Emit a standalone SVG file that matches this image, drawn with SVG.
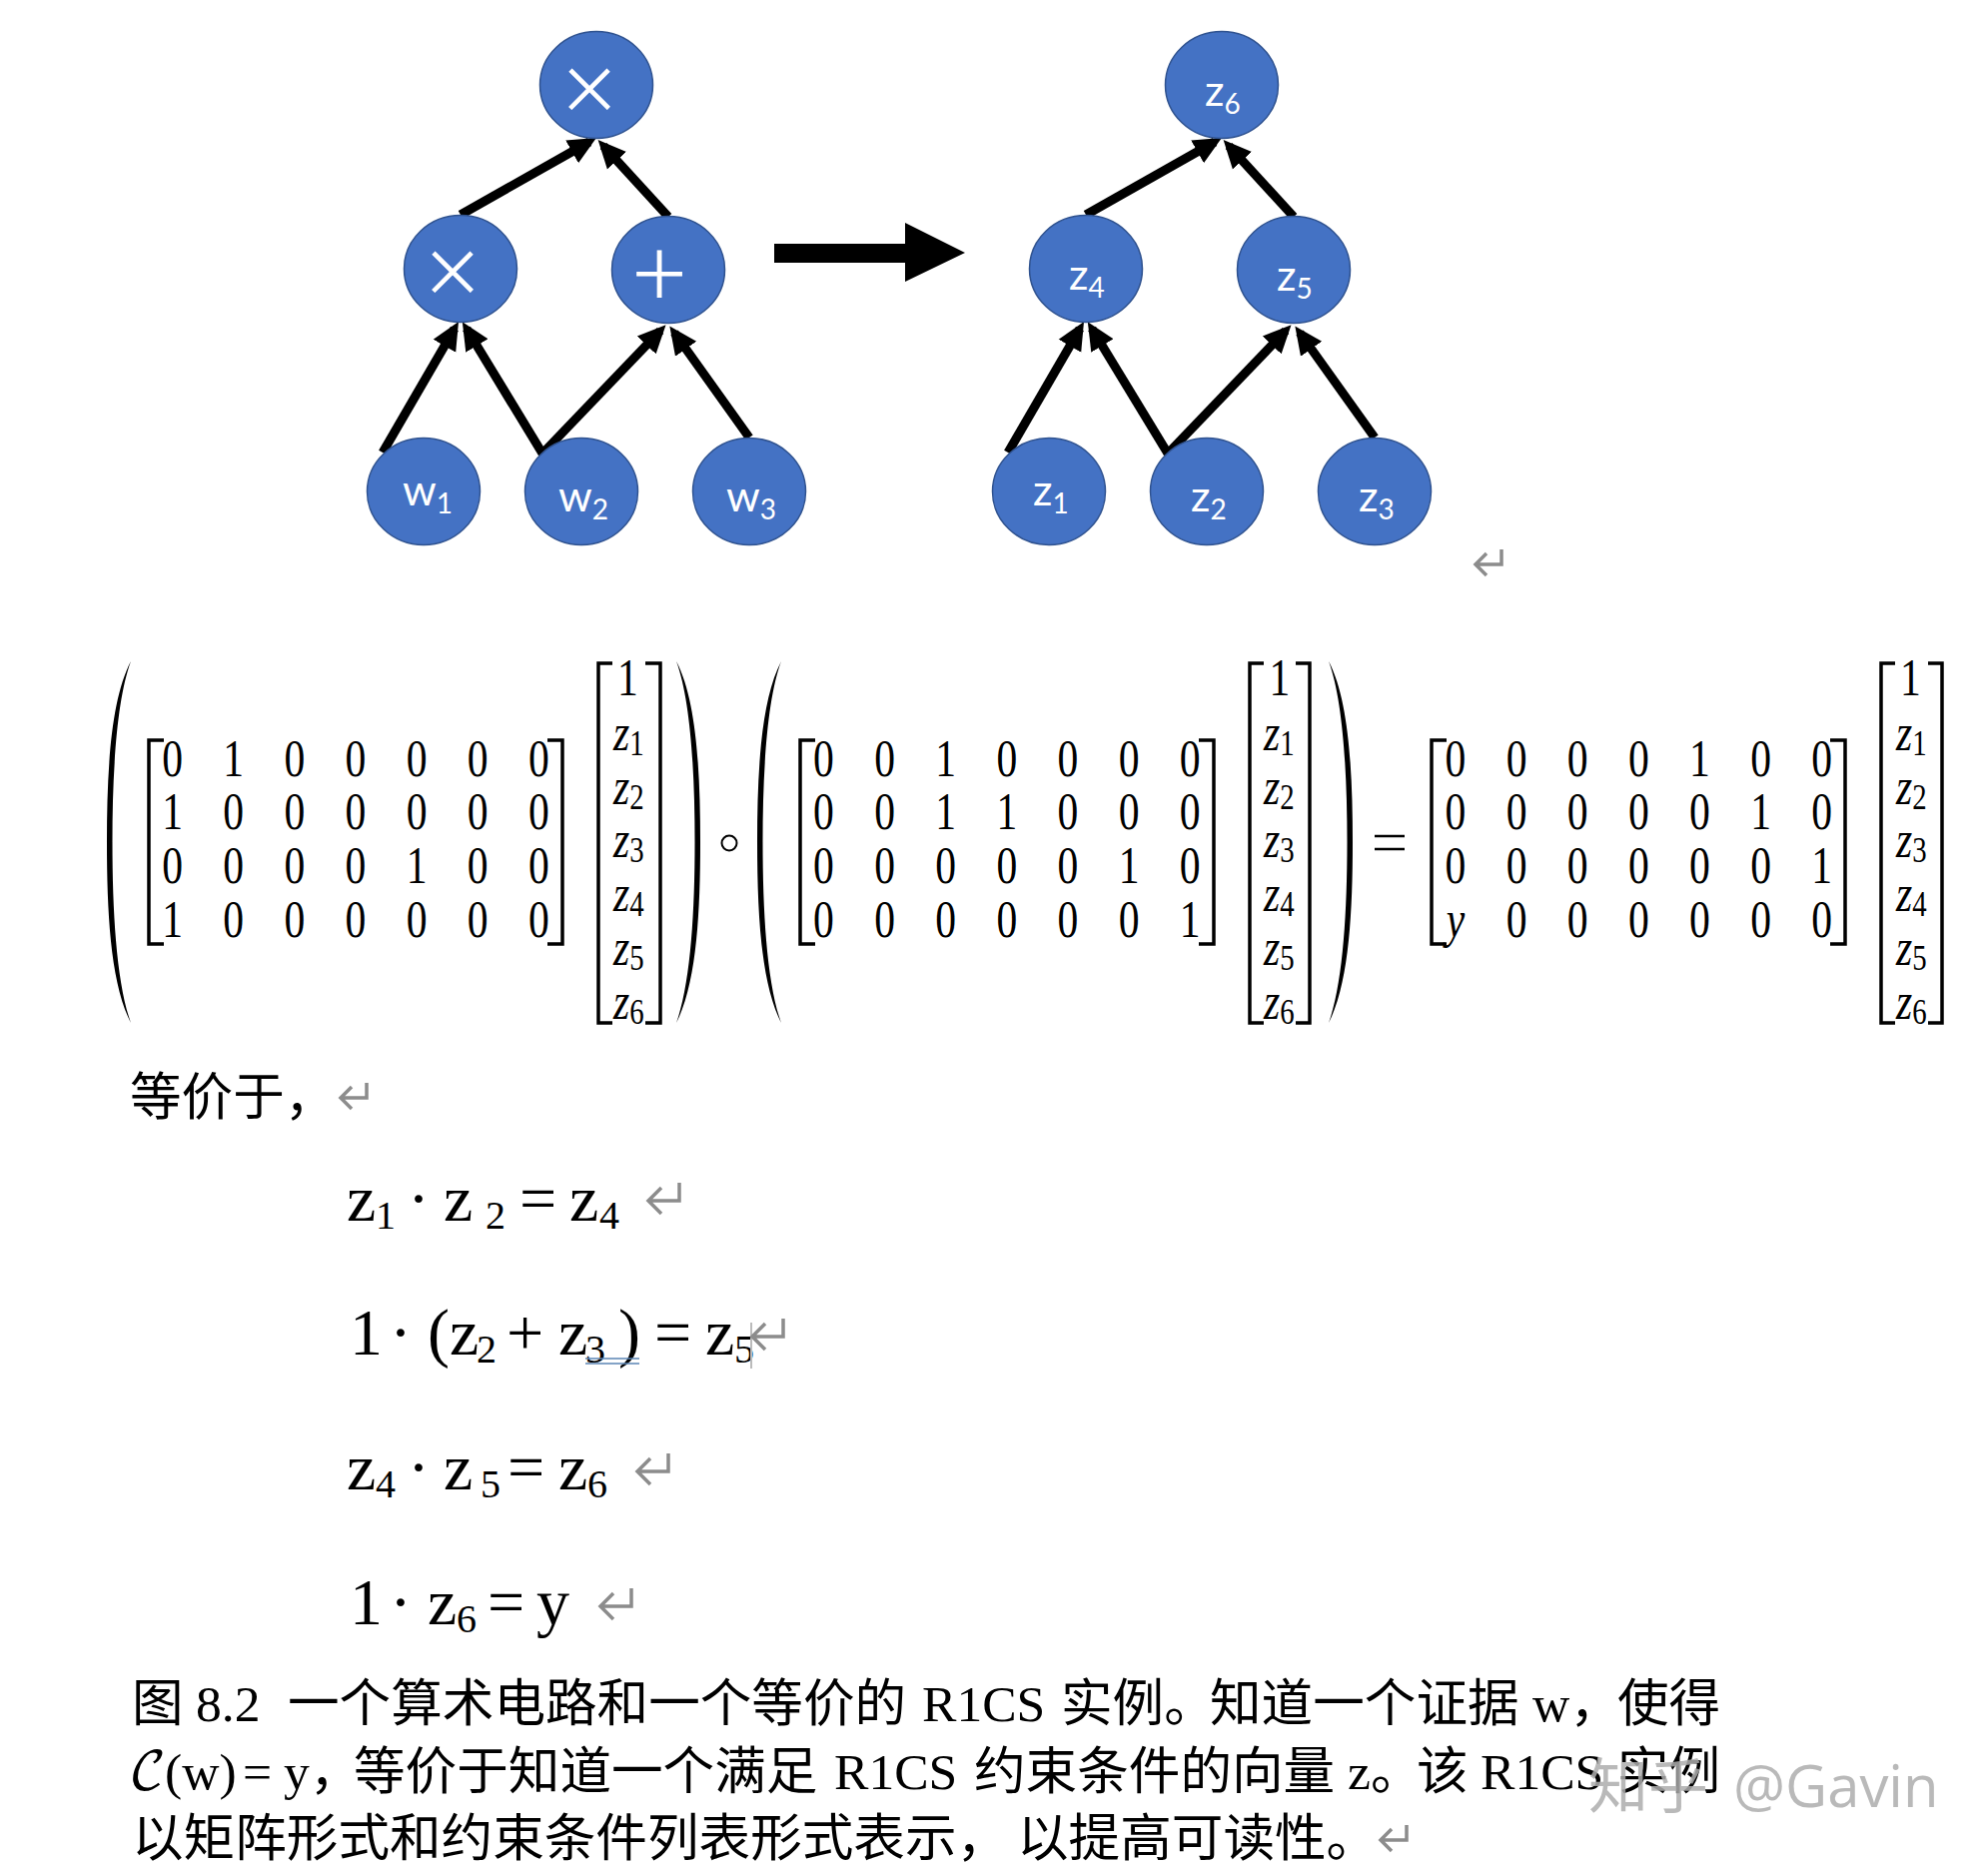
<svg xmlns="http://www.w3.org/2000/svg" width="1990" height="1871" viewBox="0 0 1990 1871">
<style>
text{font-family:"Liberation Serif","Noto Sans CJK SC",serif;fill:#000}
.n{fill:#4472c4;stroke:#2f528f;stroke-width:1.5}
.l{font-family:Lato,"Open Sans",sans-serif;fill:#fff;font-size:43px}
.ls{font-family:Lato,"Open Sans",sans-serif;fill:#fff;font-size:28px}
.op{font-family:Lato,"Open Sans",sans-serif;fill:#fff;stroke:#fff;stroke-width:1;font-size:95px;font-weight:300;text-anchor:middle}
.c{stroke:#000;stroke-width:9;fill:none;marker-end:url(#ah)}
.b{fill:none;stroke:#000;stroke-width:3.5}
.d{font-size:52px;text-anchor:middle}
.v{font-size:52px}
.vs{font-size:36px}
.vi{font-style:italic}
.e{font-size:66px}
.es{font-size:40px}
.t{font-size:51.6px}
.r{fill:none;stroke:#8c8c8c;stroke-width:3.5}
</style>
<defs>
<marker id="ah" markerUnits="userSpaceOnUse" markerWidth="32" markerHeight="30" refX="20" refY="15" orient="auto"><path d="M0,2 L28,15 L0,28 Z" fill="#000"/></marker>
<path id="lp" d="M24,0 C4,38 0,108 0,181 C0,254 4,323 24,362 C10,323 5.5,254 5.5,181 C5.5,108 10,38 24,0Z" fill="#000"/>
<path id="ret" class="r" d="M28,0 V15 H3 M13,4 L2,15 L13,26"/>
<path id="ret2" class="r" d="M33,0 V18 H3 M15,5 L2,18 L15,31"/>
</defs>

<g id="connectors">
<line class="c" x1="461" y1="215" x2="590" y2="142"/>
<line class="c" x1="669" y1="217" x2="604" y2="146"/>
<line class="c" x1="383" y1="453" x2="455" y2="329"/>
<line class="c" x1="543" y1="454" x2="467" y2="329"/>
<line class="c" x1="543" y1="454" x2="661" y2="331"/>
<line class="c" x1="750" y1="438" x2="675" y2="333"/>
<line class="c" x1="1087" y1="215" x2="1216" y2="142"/>
<line class="c" x1="1295" y1="217" x2="1230" y2="146"/>
<line class="c" x1="1009" y1="453" x2="1081" y2="329"/>
<line class="c" x1="1169" y1="454" x2="1093" y2="329"/>
<line class="c" x1="1169" y1="454" x2="1287" y2="331"/>
<line class="c" x1="1376" y1="438" x2="1301" y2="333"/>
<path id="big-arrow" d="M775,244 H906 V223 L966,253 L906,282 V263 H775 Z" fill="#000"/>
</g>

<g id="n-mul-top"><ellipse class="n" cx="597" cy="85" rx="56.5" ry="53.5"/><text class="op" x="590" y="121">×</text></g>
<g id="n-mul"><ellipse class="n" cx="461" cy="269" rx="56.5" ry="53.5"/><text class="op" x="453" y="304">×</text></g>
<g id="n-add"><ellipse class="n" cx="669" cy="270" rx="56.5" ry="53.5"/><text class="op" x="660" y="306">+</text></g>
<g id="n-w1"><ellipse class="n" cx="424" cy="492" rx="56.5" ry="53.5"/><text class="l" x="403" y="506">w<tspan class="ls" dy="8">1</tspan></text></g>
<g id="n-w2"><ellipse class="n" cx="582" cy="492" rx="56.5" ry="53.5"/><text class="l" x="559" y="512">w<tspan class="ls" dy="8">2</tspan></text></g>
<g id="n-w3"><ellipse class="n" cx="750" cy="492" rx="56.5" ry="53.5"/><text class="l" x="727" y="512">w<tspan class="ls" dy="8">3</tspan></text></g>

<g id="n-z6"><ellipse class="n" cx="1223" cy="85" rx="56.5" ry="53.5"/><text class="l" x="1206" y="106">z<tspan class="ls" dy="8">6</tspan></text></g>
<g id="n-z4"><ellipse class="n" cx="1087" cy="269" rx="56.5" ry="53.5"/><text class="l" x="1070" y="290">z<tspan class="ls" dy="8">4</tspan></text></g>
<g id="n-z5"><ellipse class="n" cx="1295" cy="270" rx="56.5" ry="53.5"/><text class="l" x="1278" y="291">z<tspan class="ls" dy="8">5</tspan></text></g>
<g id="n-z1"><ellipse class="n" cx="1050" cy="492" rx="56.5" ry="53.5"/><text class="l" x="1034" y="506">z<tspan class="ls" dy="8">1</tspan></text></g>
<g id="n-z2"><ellipse class="n" cx="1208" cy="492" rx="56.5" ry="53.5"/><text class="l" x="1192" y="512">z<tspan class="ls" dy="8">2</tspan></text></g>
<g id="n-z3"><ellipse class="n" cx="1376" cy="492" rx="56.5" ry="53.5"/><text class="l" x="1360" y="512">z<tspan class="ls" dy="8">3</tspan></text></g>

<use href="#ret" x="1475" y="550"/>

<g id="parens">
<use href="#lp" x="107" y="662"/>
<use href="#lp" transform="matrix(-1 0 0 1 701 662)"/>
<use href="#lp" x="758" y="662"/>
<use href="#lp" transform="matrix(-1 0 0 1 1354 662)"/>
</g>
<g id="brackets">
<path class="b" d="M164,741 H149 V945 H164"/><path class="b" d="M548,741 H563 V945 H548"/>
<path class="b" d="M816,741 H801 V945 H816"/><path class="b" d="M1200,741 H1215 V945 H1200"/>
<path class="b" d="M1448,741 H1433 V945 H1448"/><path class="b" d="M1832,741 H1847 V945 H1832"/>
<path class="b" d="M613,664 H599 V1024 H613"/><path class="b" d="M646,664 H661 V1024 H646"/>
<path class="b" d="M1265,664 H1251 V1024 H1265"/><path class="b" d="M1297,664 H1311 V1024 H1297"/>
<path class="b" d="M1897,664 H1883 V1024 H1897"/><path class="b" d="M1930,664 H1944 V1024 H1930"/>
</g>
<g id="matrix-a" transform="translate(172.6,0) scale(.8,1)">
<text class="d" x="0 76.4 152.8 229.2 305.6 382 458.4" y="777">0100000</text>
<text class="d" x="0 76.4 152.8 229.2 305.6 382 458.4" y="830">1000000</text>
<text class="d" x="0 76.4 152.8 229.2 305.6 382 458.4" y="884">0000100</text>
<text class="d" x="0 76.4 152.8 229.2 305.6 382 458.4" y="938">1000000</text>
</g>
<g id="matrix-b" transform="translate(824.5,0) scale(.8,1)">
<text class="d" x="0 76.4 152.8 229.2 305.6 382 458.4" y="777">0010000</text>
<text class="d" x="0 76.4 152.8 229.2 305.6 382 458.4" y="830">0011000</text>
<text class="d" x="0 76.4 152.8 229.2 305.6 382 458.4" y="884">0000010</text>
<text class="d" x="0 76.4 152.8 229.2 305.6 382 458.4" y="938">0000001</text>
</g>
<g id="matrix-c" transform="translate(1457,0) scale(.8,1)">
<text class="d" x="0 76.4 152.8 229.2 305.6 382 458.4" y="777">0000100</text>
<text class="d" x="0 76.4 152.8 229.2 305.6 382 458.4" y="830">0000010</text>
<text class="d" x="0 76.4 152.8 229.2 305.6 382 458.4" y="884">0000001</text>
<text class="d vi" x="0" y="938">y</text>
<text class="d" x="76.4 152.8 229.2 305.6 382 458.4" y="938">000000</text>
</g>
<g id="vector-a" transform="translate(614,0) scale(.8,1)">
<text class="d" x="18" y="696">1</text>
<text class="v" y="751"><tspan class="vi">z</tspan><tspan class="vs" dy="5">1</tspan></text>
<text class="v" y="805"><tspan class="vi">z</tspan><tspan class="vs" dy="5">2</tspan></text>
<text class="v" y="858"><tspan class="vi">z</tspan><tspan class="vs" dy="5">3</tspan></text>
<text class="v" y="912"><tspan class="vi">z</tspan><tspan class="vs" dy="5">4</tspan></text>
<text class="v" y="966"><tspan class="vi">z</tspan><tspan class="vs" dy="5">5</tspan></text>
<text class="v" y="1020"><tspan class="vi">z</tspan><tspan class="vs" dy="5">6</tspan></text>
</g>
<g id="vector-b" transform="translate(1265,0) scale(.8,1)">
<text class="d" x="20" y="696">1</text>
<text class="v" y="751"><tspan class="vi">z</tspan><tspan class="vs" dy="5">1</tspan></text>
<text class="v" y="805"><tspan class="vi">z</tspan><tspan class="vs" dy="5">2</tspan></text>
<text class="v" y="858"><tspan class="vi">z</tspan><tspan class="vs" dy="5">3</tspan></text>
<text class="v" y="912"><tspan class="vi">z</tspan><tspan class="vs" dy="5">4</tspan></text>
<text class="v" y="966"><tspan class="vi">z</tspan><tspan class="vs" dy="5">5</tspan></text>
<text class="v" y="1020"><tspan class="vi">z</tspan><tspan class="vs" dy="5">6</tspan></text>
</g>
<g id="vector-c" transform="translate(1898,0) scale(.8,1)">
<text class="d" x="18" y="696">1</text>
<text class="v" y="751"><tspan class="vi">z</tspan><tspan class="vs" dy="5">1</tspan></text>
<text class="v" y="805"><tspan class="vi">z</tspan><tspan class="vs" dy="5">2</tspan></text>
<text class="v" y="858"><tspan class="vi">z</tspan><tspan class="vs" dy="5">3</tspan></text>
<text class="v" y="912"><tspan class="vi">z</tspan><tspan class="vs" dy="5">4</tspan></text>
<text class="v" y="966"><tspan class="vi">z</tspan><tspan class="vs" dy="5">5</tspan></text>
<text class="v" y="1020"><tspan class="vi">z</tspan><tspan class="vs" dy="5">6</tspan></text>
</g>
<circle cx="730" cy="844" r="7.5" fill="none" stroke="#000" stroke-width="2"/>
<path d="M1376,837 H1406 M1376,850 H1406" stroke="#000" stroke-width="2.5"/>

<g id="prose">
<text class="t" x="130" y="1116">等价于，</text>
<use href="#ret" x="339" y="1084"/>

<text class="e" x="347" y="1222">z</text><text class="es" x="376" y="1230">1</text><text class="e" x="408" y="1222">·</text><text class="e" x="444" y="1222">z</text><text class="es" x="486" y="1230">2</text><text class="e" x="520" y="1222">=</text><text class="e" x="570" y="1222">z</text><text class="es" x="600" y="1230">4</text>
<use href="#ret2" x="647" y="1184"/>

<text class="e" x="350" y="1356">1</text><text class="e" x="390" y="1356">·</text><text class="e" x="428" y="1356">(z</text><text class="es" x="477" y="1364">2</text><text class="e" x="507" y="1356">+</text><text class="e" x="559" y="1356">z</text><text class="es" x="586" y="1364">3</text><text class="e" x="619" y="1356">)</text><text class="e" x="655" y="1356">=</text><text class="e" x="706" y="1356">z</text><text class="es" x="735" y="1364">5</text>
<path d="M586,1360 H640 M586,1365 H640" stroke="#5b85b5" stroke-width="1.5"/>
<path d="M752,1324 V1370" stroke="#bbb" stroke-width="2"/>
<use href="#ret2" x="751" y="1320"/>

<text class="e" x="347" y="1491">z</text><text class="es" x="376" y="1499">4</text><text class="e" x="408" y="1491">·</text><text class="e" x="444" y="1491">z</text><text class="es" x="481" y="1499">5</text><text class="e" x="508" y="1491">=</text><text class="e" x="559" y="1491">z</text><text class="es" x="588" y="1499">6</text>
<use href="#ret2" x="636" y="1455"/>

<text class="e" x="350" y="1626">1</text><text class="e" x="390" y="1626">·</text><text class="e" x="428" y="1626">z</text><text class="es" x="457" y="1634">6</text><text class="e" x="488" y="1626">=</text><text class="e" x="537" y="1626">y</text>
<use href="#ret2" x="599" y="1590"/>

<text class="t" x="132" y="1723">图</text><text class="t" x="196" y="1723">8.2</text><text class="t" x="288" y="1723">一个算术电路和一个等价的</text><text class="t" x="923" y="1723">R1CS</text><text class="t" x="1062" y="1723">实例。</text><text class="t" x="1211" y="1723">知道一个证据</text><text class="t" x="1534" y="1723">w，</text><text class="t" x="1619" y="1723">使得</text>
<text class="t" x="129" y="1791" style="font-family:'DejaVu Math TeX Gyre','DejaVu Serif',serif" font-size="50">𝒞</text><text class="t" x="165" y="1791">(w)</text><text class="t" x="243" y="1791">=</text><text class="t" x="284" y="1791">y，</text><text class="t" x="354" y="1791">等价于知道一个满足</text><text class="t" x="835" y="1791">R1CS</text><text class="t" x="975" y="1791">约束条件的向量</text><text class="t" x="1349" y="1791">z。</text><text class="t" x="1418" y="1791">该</text><text class="t" x="1482" y="1791">R1CS</text><text class="t" x="1619" y="1791">实例</text>
<text class="t" x="132" y="1858">以矩阵形式和约束条件列表形式表示，</text><text class="t" x="1018" y="1858">以提高可读性。</text>
<use href="#ret" x="1380" y="1827"/>
</g>
<g id="watermark" fill-opacity=".85">
<text x="1590" y="1810" style="font-family:'Noto Sans CJK SC',sans-serif;fill:#adadad" font-size="60">知乎</text>
<text x="1735" y="1809" style="font-family:'Open Sans',sans-serif;fill:#adadad" font-size="58">@Gavin</text>
</g>
</svg>
